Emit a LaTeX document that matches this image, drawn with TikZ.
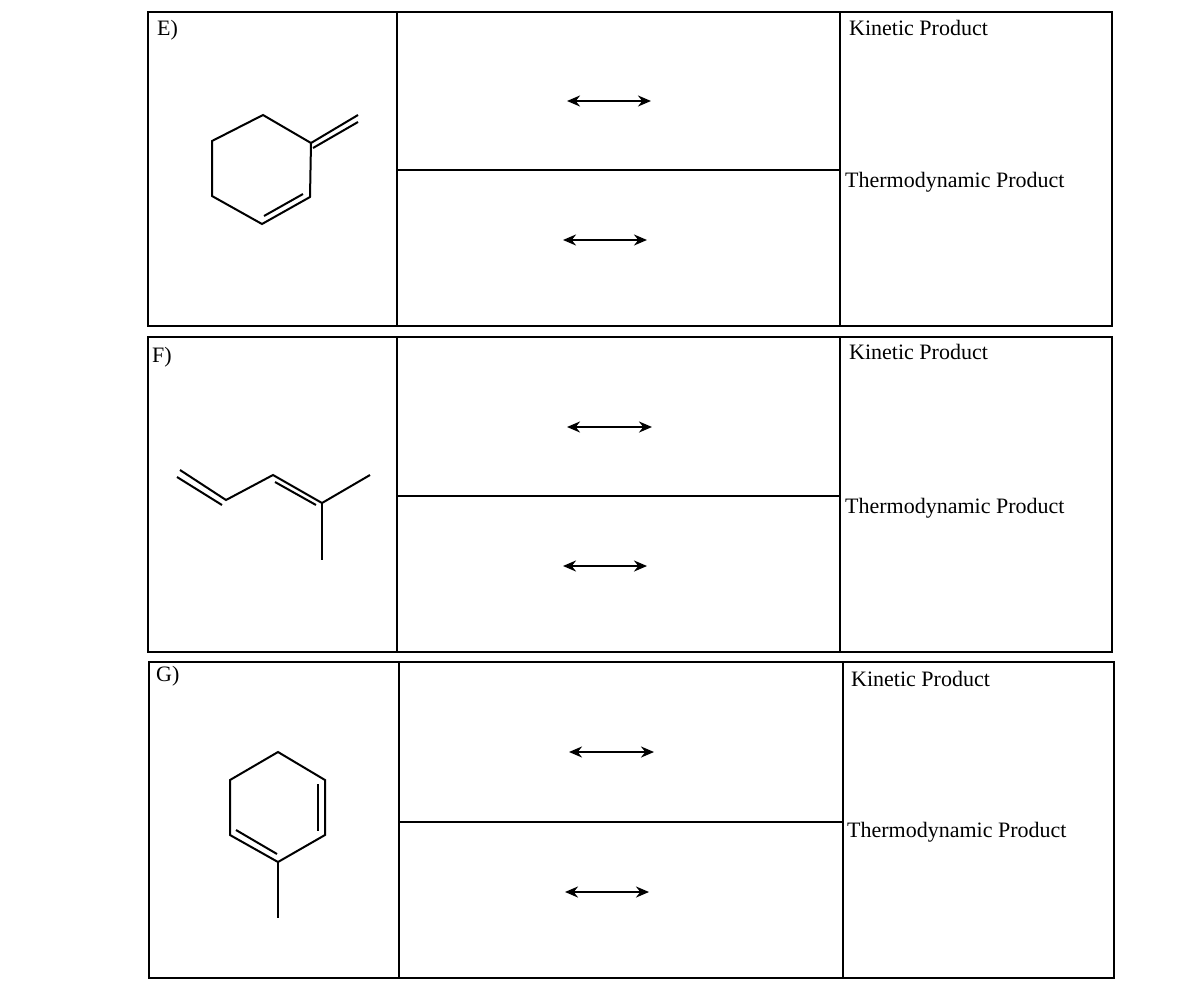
\documentclass[tikz,border=0pt]{standalone}
\usepackage{fontspec}
\setmainfont{Liberation Serif}
\usetikzlibrary{arrows.meta}
\tikzset{tbl/.style={line width=2.2pt},bond/.style={line width=2pt},
 rarrow/.style={line width=2.4pt,{Stealth[length=13pt,width=11pt]}-{Stealth[length=13pt,width=11pt]}},
 lbl/.style={anchor=west,inner sep=0pt,font=\fontsize{22}{22}\selectfont}}
\begin{document}
\begin{tikzpicture}[x=1pt,y=-1pt]
\useasboundingbox (0,0) rectangle (1197,997);
% panel frames
\foreach \n/\xa/\xb/\xc/\xd/\ya/\ym/\yb in {E/148/397/840/1112/12/170/326, F/148/397/840/1112/337/496/652, G/149/399/843/1114/662/822/978}{
 \draw[tbl] (\xa,\ya) rectangle (\xd,\yb);
 \draw[tbl] (\xb,\ya) -- (\xb,\yb);
 \draw[tbl] (\xc,\ya) -- (\xc,\yb);
 \draw[tbl] (\xb,\ym) -- (\xc,\ym);
}
\node[lbl] (le) at (157,30) {E)};
\node[lbl] (lf) at (152,357) {F)};
\node[lbl] (lg) at (156,676) {G)};
\node[lbl] (k1) at (849,28) {Kinetic Product};
\node[lbl] (t1) at (845,182) {Thermodynamic Product};
\node[lbl] (k2) at (849,352) {Kinetic Product};
\node[lbl] (t2) at (845,508) {Thermodynamic Product};
\node[lbl] (k3) at (851,679) {Kinetic Product};
\node[lbl] (t3) at (847,832) {Thermodynamic Product};
% arrows
\coordinate (a1) at (567,101); \coordinate (b1) at (651,101);
\coordinate (a2) at (563,240); \coordinate (b2) at (647,240);
\coordinate (a3) at (567,427); \coordinate (b3) at (652,427);
\coordinate (a4) at (563,566); \coordinate (b4) at (647,566);
\coordinate (a5) at (569,752); \coordinate (b5) at (654,752);
\coordinate (a6) at (565,892); \coordinate (b6) at (649,892);
\foreach \i in {1,...,6}{\draw[rarrow] (a\i) -- (b\i);}
% E molecule
\draw[bond] (263,115) -- (311,143) -- (310,197) -- (262,224) -- (212,196) -- (212,141) -- cycle;
\draw[bond] (311,143) -- (358,115);
\draw[bond] (313,148) -- (358,122);
\draw[bond] (303,194) -- (264,216);
% F molecule
\draw[bond] (180,470) -- (226,500) -- (273,475) -- (322,503) -- (370,475);
\draw[bond] (322,503) -- (322,560);
\draw[bond] (177,477) -- (222,505);
\draw[bond] (275,482) -- (316,505);
% G molecule
\draw[bond] (278,752) -- (325,780) -- (325,835) -- (278,862) -- (230,835) -- (230,780) -- cycle;
\draw[bond] (278,862) -- (278,918);
\draw[bond] (318,784) -- (318,831);
\draw[bond] (236,830) -- (277,854);
\end{tikzpicture}
\end{document}
